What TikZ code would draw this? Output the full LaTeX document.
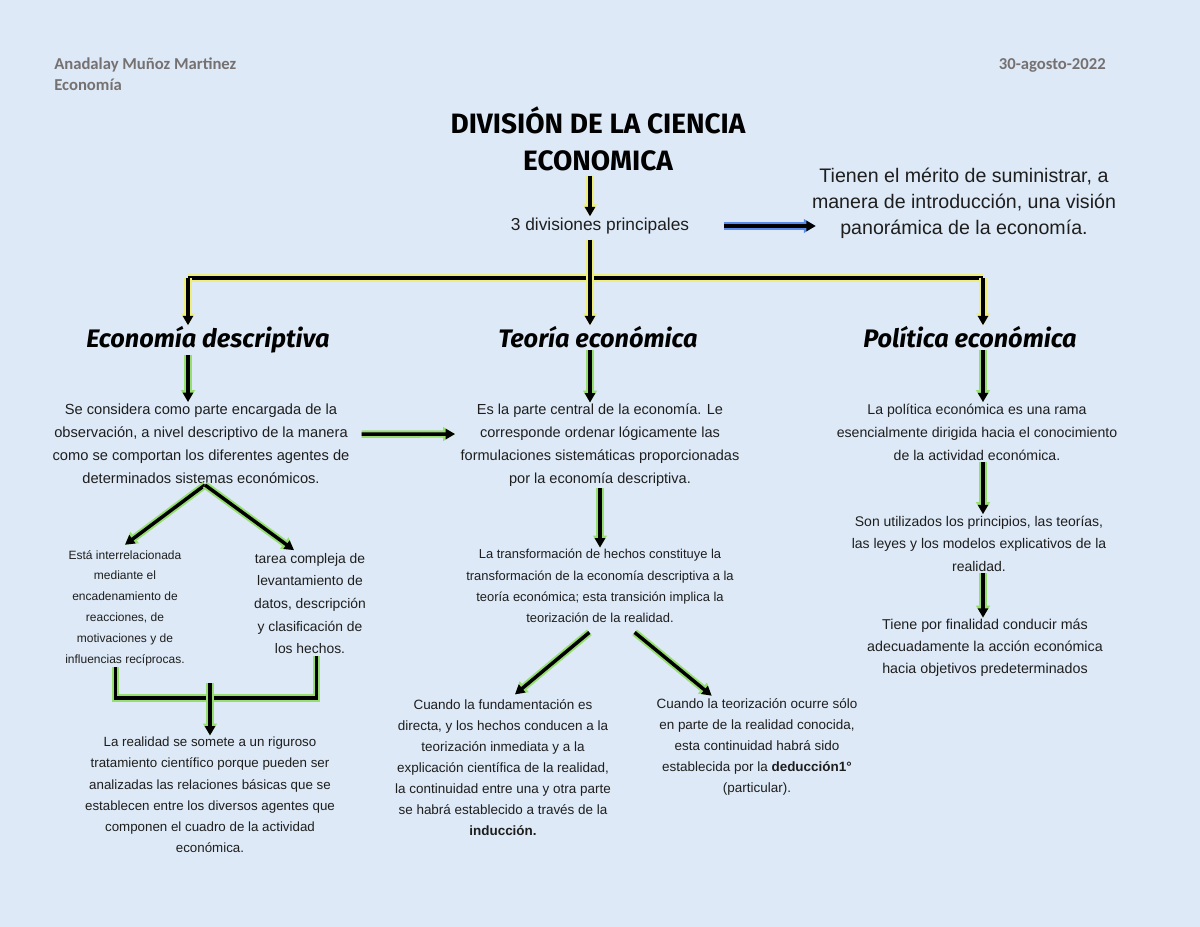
\documentclass[tikz,border=0pt]{standalone}
\usepackage{fontspec}
\setmainfont{Liberation Sans}
\newfontfamily\carlito{Carlito}
\newfontfamily\firafont{Fira Sans}
\usetikzlibrary{arrows.meta}

\definecolor{fondo}{RGB}{221,233,246}
\definecolor{gris}{RGB}{118,113,113}
\definecolor{tinta}{RGB}{30,30,30}
\definecolor{brilloA}{RGB}{238,238,120}
\definecolor{brilloV}{RGB}{150,222,110}
\definecolor{brilloZ}{RGB}{90,140,235}

\tikzset{
  txt/.style={align=center, text=tinta, inner sep=1pt},
  cabecera/.style={text=gris, inner sep=0pt, font=\carlito\bfseries\fontsize{12.5}{15}\selectfont},
  encabezado/.style={inner sep=1pt, anchor=base, font=\firafont\bfseries\itshape\fontsize{19}{21}\selectfont},
  linea/.style={line width=2.6pt, draw=black},
  flecha/.style={linea, -{Triangle[length=7pt,width=7.5pt]}},
  lineaA/.style={linea, preaction={draw=brilloA, line width=5.5pt}},
  lineaV/.style={linea, line join=miter, preaction={draw=brilloV, line width=5.5pt}},
  flechaA/.style={flecha, preaction={draw=brilloA, line width=5.5pt, -{Triangle[length=9pt,width=10pt]}}},
  flechaV/.style={flecha, preaction={draw=brilloV, line width=5.5pt, -{Triangle[length=9pt,width=10pt]}}},
  flechaZ/.style={flecha, preaction={draw=brilloZ, line width=5.5pt, -{Triangle[length=9pt,width=10pt]}}}
}

\begin{document}
\begin{tikzpicture}[x=0.75pt, y=-0.75pt]
\fill[fondo] (0,0) rectangle (1200,927);
\useasboundingbox (0,0) rectangle (1200,927);

% cabecera
\node[cabecera, anchor=west] (autor) at (54,65) {Anadalay Muñoz Martinez};
\node[cabecera, anchor=west] (curso) at (54,85) {Economía};
\node[cabecera, anchor=east] (fecha) at (1106,65) {30-agosto-2022};

% titulo
\node[align=center, inner sep=1pt, font=\firafont\bfseries\fontsize{21}{28}\selectfont] (titulo) at (598,139)
  {DIVISIÓN DE LA CIENCIA\\ECONOMICA};
\node[txt, font=\fontsize{13}{15}\selectfont] (divisiones) at (600,226) {3 divisiones principales};
\node[txt, font=\fontsize{14.7}{19.5}\selectfont] (merito) at (964,203)
  {Tienen el mérito de suministrar, a\\manera de introducción, una visión\\panorámica de la economía.};

\coordinate (eje) at (590,278);
\coordinate (barL) at (188,278);
\coordinate (barR) at (983,278);

% ramas
\node[encabezado] (hdesc) at (208,348) {Economía descriptiva};
\node[encabezado] (hteo) at (598,348) {Teoría económica};
\node[encabezado] (hpol) at (970,348) {Política económica};

% economia descriptiva
\node[txt, font=\fontsize{11}{17.25}\selectfont] (desc) at (201,443.5)
  {Se considera como parte encargada de la\\observación, a nivel descriptivo de la manera\\como se comportan los diferentes agentes de\\determinados sistemas económicos.};
\node[txt, font=\fontsize{9}{15.6}\selectfont] (interrel) at (125,608)
  {Está interrelacionada\\mediante el\\encadenamiento de\\reacciones, de\\motivaciones y de\\influencias recíprocas.};
\node[txt, font=\fontsize{10.4}{17}\selectfont] (tarea) at (310,603.5)
  {tarea compleja de\\levantamiento de\\datos, descripción\\y clasificación de\\los hechos.};
\node[txt, font=\fontsize{10}{15.9}\selectfont] (realidad) at (210,795)
  {La realidad se somete a un riguroso\\tratamiento científico porque pueden ser\\analizadas las relaciones básicas que se\\establecen entre los diversos agentes que\\componen el cuadro de la actividad\\económica.};

% teoria economica
\node[txt, font=\fontsize{10.9}{17.25}\selectfont] (teo) at (600,445.5)
  {Es la parte central de la economía. Le\\corresponde ordenar lógicamente las\\formulaciones sistemáticas proporcionadas\\por la economía descriptiva.};
\node[txt, font=\fontsize{9.7}{16}\selectfont] (transf) at (600,586)
  {La transformación de hechos constituye la\\transformación de la economía descriptiva a la\\teoría económica; esta transición implica la\\teorización de la realidad.};
\node[txt, font=\fontsize{10.1}{15.75}\selectfont] (induc) at (503,768)
  {Cuando la fundamentación es\\directa, y los hechos conducen a la\\teorización inmediata y a la\\explicación científica de la realidad,\\la continuidad entre una y otra parte\\se habrá establecido a través de la\\{\bfseries inducción.}};
\node[txt, font=\fontsize{10.1}{15.75}\selectfont] (deduc) at (757,747)
  {Cuando la teorización ocurre sólo\\en parte de la realidad conocida,\\esta continuidad habrá sido\\establecida por la {\bfseries deducción1°}\\(particular).};

% politica economica
\node[txt, font=\fontsize{10.6}{17.25}\selectfont] (pol) at (977,432)
  {La política económica es una rama\\esencialmente dirigida hacia el conocimiento\\de la actividad económica.};
\node[txt, font=\fontsize{10.5}{16.9}\selectfont] (polb) at (979,543.5)
  {Son utilizados los principios, las teorías,\\las leyes y los modelos explicativos de la\\realidad.};
\node[txt, font=\fontsize{10.7}{16.5}\selectfont] (polc) at (985,648)
  {Tiene por finalidad conducir más\\adecuadamente la acción económica\\hacia objetivos predeterminados};

% conectores
\draw[flechaA] ([yshift=-2pt]titulo.south -| eje) -- (divisiones.north -| eje);
\draw[flechaZ] ([xshift=25pt]divisiones.east) -- ([xshift=4pt]merito.west |- divisiones.east);
\draw[lineaA] (barL) -- (barR);
\draw[flechaA] ([yshift=-3pt]divisiones.south -| eje) -- (hteo.north -| eje);
\draw[flechaA] (barL) -- (hdesc.north -| barL);
\draw[flechaA] (barR) -- (hpol.north -| barR);

\draw[flechaV] (hdesc.south -| barL) -- (desc.north -| barL);
\draw[flechaV] (hteo.south -| eje) -- (teo.north -| eje);
\draw[flechaV] (hpol.south -| barR) -- (pol.north -| barR);
\draw[flechaV] ([shift={(8pt,7pt)}]desc.east) -- ([shift={(-3pt,8.6pt)}]teo.west);
\draw[flechaV] ([xshift=3pt]desc.south) -- ([yshift=3pt]interrel.north);
\draw[flechaV] ([xshift=3pt]desc.south) -- ([shift={(-12pt,1pt)}]tarea.north);
\draw[lineaV] ([xshift=-7pt]interrel.south) -- ++(0,-23pt) -| ([xshift=5pt]tarea.south);
\draw[flechaV] ([yshift=-12pt]interrel.south -| realidad.north) -- (realidad.north);

\draw[flechaV] (teo.south) -- (transf.north);
\draw[flechaV] ([shift={(-8pt,-6pt)}]transf.south) -- ([shift={(9pt,3pt)}]induc.north);
\draw[flechaV] ([shift={(26pt,-6pt)}]transf.south) -- ([shift={(-34pt,1pt)}]deduc.north);

\draw[flechaV] (pol.south -| barR) -- (polb.north -| barR);
\draw[flechaV] (polb.south -| barR) -- (polc.north -| barR);
\end{tikzpicture}
\end{document}
